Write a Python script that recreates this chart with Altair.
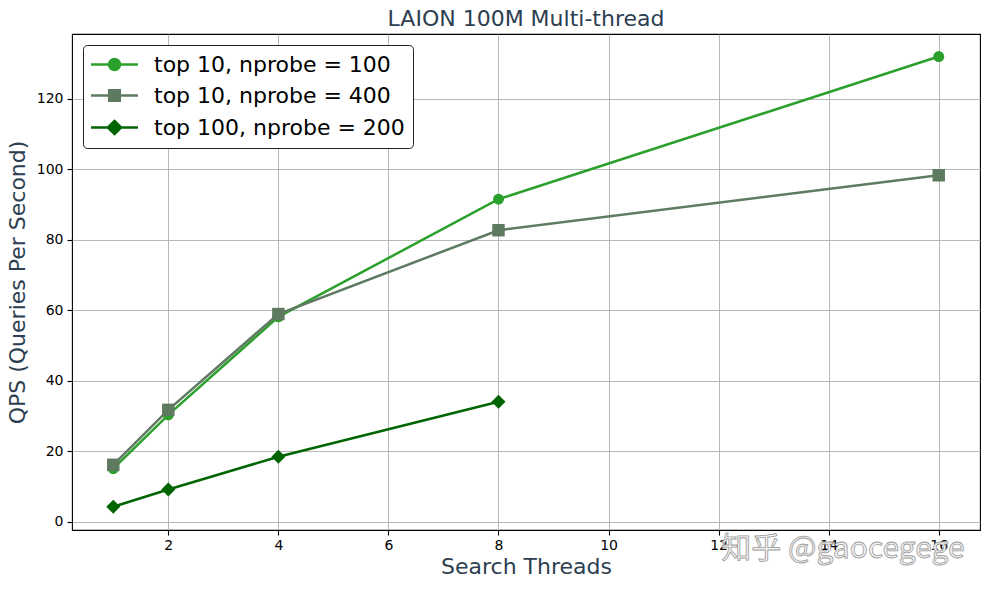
import altair as alt
import pandas as pd

# ---- data ----
threads_a = [1, 2, 4, 8, 16]
qps_top10_np100 = [15.0, 30.3, 58.1, 91.5, 132.0]
qps_top10_np400 = [16.1, 31.7, 58.9, 82.7, 98.3]
threads_b = [1, 2, 4, 8]
qps_top100_np200 = [4.2, 9.1, 18.4, 34.0]

series_names = ["top 10, nprobe = 100", "top 10, nprobe = 400", "top 100, nprobe = 200"]
series_colors = ["#2ca02c", "#5e7a60", "#006400"]
series_shapes = ["circle", "square", "diamond"]
series_sizes = [120, 156, 196]

x_ticks = [2, 4, 6, 8, 10, 12, 14, 16]
y_ticks = [0, 20, 40, 60, 80, 100, 120]

rows = []
for t, q in zip(threads_a, qps_top10_np100):
    rows.append({"threads": t, "qps": q, "series": series_names[0]})
for t, q in zip(threads_a, qps_top10_np400):
    rows.append({"threads": t, "qps": q, "series": series_names[1]})
for t, q in zip(threads_b, qps_top100_np200):
    rows.append({"threads": t, "qps": q, "series": series_names[2]})
df = pd.DataFrame(rows)

FONT = "DejaVu Sans"
TXT = "#2c3e50"

# legend symbols: line handle with marker in the middle (matplotlib style)
legend_paths = [
    "M-2.35,0H2.35M0.55,0A0.55,0.55,0,1,1,-0.55,0A0.55,0.55,0,1,1,0.55,0Z",
    "M-2.35,0H2.35M-0.53,-0.53H0.53V0.53H-0.53Z",
    "M-2.35,0H2.35M0,-0.66L0.66,0L0,0.66L-0.66,0Z",
]

x_enc = alt.X(
    "threads:Q",
    scale=alt.Scale(domain=[0.25, 16.75], nice=False, zero=False),
    axis=alt.Axis(values=x_ticks, format="d", title="Search Threads",
                  titlePadding=4, labelPadding=3),
)
y_enc = alt.Y(
    "qps:Q",
    scale=alt.Scale(domain=[-2.4, 138.4], nice=False, zero=False),
    axis=alt.Axis(values=y_ticks, format="d", title="QPS (Queries Per Second)",
                  titlePadding=7, labelPadding=4),
)

base = alt.Chart(df)

layers = []
for name, col, shp, sz in zip(series_names, series_colors, series_shapes, series_sizes):
    sub = base.transform_filter(alt.datum.series == name)
    layers.append(sub.mark_line(strokeWidth=2.5, color=col).encode(x=x_enc, y=y_enc))
    layers.append(sub.mark_point(filled=True, opacity=1, shape=shp, size=sz, color=col).encode(x=x_enc, y=y_enc))

leg = alt.Legend(
    title=None, orient="none", legendX=11, legendY=11, padding=8,
    fillColor="white", strokeColor="#222222", cornerRadius=4,
    symbolSize=400, symbolStrokeWidth=2.5, symbolOffset=12, symbolOpacity=1,
    labelOffset=28, labelFont=FONT, labelFontSize=22, labelColor="black",
    labelLimit=500, rowPadding=8, labelExpr="datum.label + '\u00a0\u00a0'",
)

legend_layer = base.mark_point(filled=True, opacity=1, strokeWidth=2.5).transform_filter(
    "datum.threads < 0"
).encode(
    x=x_enc, y=y_enc,
    fill=alt.Fill("series:N", scale=alt.Scale(domain=series_names, range=series_colors), legend=leg),
    stroke=alt.Stroke("series:N", scale=alt.Scale(domain=series_names, range=series_colors), legend=leg),
    shape=alt.Shape("series:N", scale=alt.Scale(domain=series_names, range=legend_paths), legend=leg),
)
layers.append(legend_layer)

watermark_df = pd.DataFrame({"t": ["知乎 @gaocegege"]})
watermark = alt.Chart(watermark_df).mark_text(
    font="Noto Sans CJK SC", fontSize=30, fill="#f4f4f4", stroke="#9a9a9a",
    strokeWidth=0.8, align="center", baseline="alphabetic",
).encode(x=alt.value(771), y=alt.value(524), text="t:N")
layers.append(watermark)

chart = alt.layer(*layers).properties(
    width=908, height=496,
    title=alt.Title("LAION 100M Multi-thread", font=FONT, fontSize=22, fontWeight="normal",
                    color=TXT, offset=3, anchor="middle"),
    autosize=alt.AutoSizeParams(type="none"),
    padding={"left": 64, "top": 26, "right": 1, "bottom": 52},
).configure_view(
    stroke="black", strokeWidth=1.1
).configure_axis(
    labelFont=FONT, labelFontSize=14, labelColor="black",
    titleFont=FONT, titleFontSize=22, titleFontWeight="normal", titleColor=TXT,
    tickColor="black", tickSize=5, tickWidth=1.1, domain=False,
    grid=True, gridColor="#b0b0b0", gridWidth=0.9, labelFlush=False,
)

chart.save("out.html", embed_options={"renderer": "svg", "actions": False})
